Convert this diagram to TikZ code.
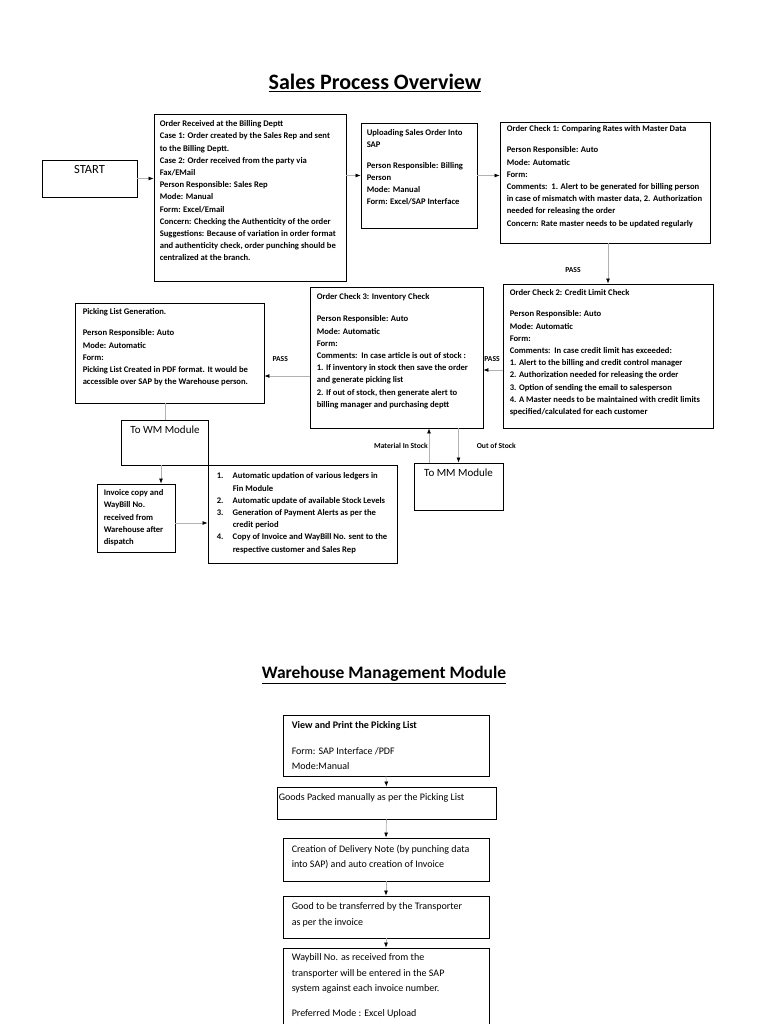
\documentclass[tikz,border=0pt]{standalone}
\usepackage{fontspec}
\setmainfont{Carlito}
\usetikzlibrary{arrows.meta, positioning}

\begin{document}
\begin{tikzpicture}[
    x=1pt, y=-1pt,
    panel/.style={draw, line width=0.9pt, inner sep=0pt},
    note/.style={align=left, inner sep=0pt, font=\fontsize{8.6}{12.2}\selectfont\bfseries},
    plain/.style={align=left, inner sep=0pt, font=\fontsize{10}{15.5}\selectfont},
    caption/.style={inner sep=0pt, font=\fontsize{11}{12}\selectfont},
    heading/.style={inner sep=0pt, font=\fontsize{19}{22}\selectfont\bfseries},
    tag/.style={inner sep=0pt, font=\fontsize{7.6}{8}\selectfont\bfseries},
    arrow/.style={-{Latex[length=5pt, width=4pt, black]}, draw=gray!60, line width=0.7pt},
    link/.style={draw=gray!60, line width=0.7pt}
]
\fill[white] (0,0) rectangle (768,1024);
\useasboundingbox (0,0) rectangle (768,1024);
\clip (0,0) rectangle (768,1024);

% sales process
\node[heading, font=\fontsize{22}{24}\selectfont\bfseries] (salesTitle) at (375,83) {\underline{Sales Process Overview}};

\node[panel, minimum width=95pt, minimum height=37pt] (start) at (89.5,178.5) {};
\node[caption, font=\fontsize{12.5}{14}\selectfont, below=6pt of start.north] {START};

\node[panel, minimum width=192pt, minimum height=167pt] (recv) at (250,197.5) {};
\node[note, below right=7pt and 6pt of recv.north west] {Order Received at the Billing Deptt\\
Case 1: Order created by the Sales Rep and sent\\
to the Billing Deptt.\\
Case 2: Order received from the party via\\
Fax/EMail\\
Person Responsible: Sales Rep\\
Mode: Manual\\
Form: Excel/Email\\
Concern: Checking the Authenticity of the order\\
Suggestions: Because of variation in order format\\
and authenticity check, order punching should be\\
centralized at the branch.};

\node[panel, minimum width=116pt, minimum height=105pt] (upload) at (419,175.5) {};
\node[note, below right=7pt and 6pt of upload.north west] {Uploading Sales Order Into\\
SAP\\[8pt]
Person Responsible: Billing\\
Person\\
Mode: Manual\\
Form: Excel/SAP Interface};

\node[panel, minimum width=210pt, minimum height=121pt] (chk1) at (605,182.5) {};
\node[note, below right=4pt and 7pt of chk1.north west] {Order Check 1: Comparing Rates with Master Data\\[9pt]
Person Responsible: Auto\\
Mode: Automatic\\
Form:\\
Comments:\ \ 1. Alert to be generated for billing person\\
in case of mismatch with master data, 2. Authorization\\
needed for releasing the order\\
Concern: Rate master needs to be updated regularly};

\node[panel, minimum width=210pt, minimum height=144pt] (chk2) at (608,356) {};
\node[note, below right=6pt and 7pt of chk2.north west] {Order Check 2: Credit Limit Check\\[9pt]
Person Responsible: Auto\\
Mode: Automatic\\
Form:\\
Comments:\ \ In case credit limit has exceeded:\\
1. Alert to the billing and credit control manager\\
2. Authorization needed for releasing the order\\
3. Option of sending the email to salesperson\\
4. A Master needs to be maintained with credit limits\\
specified/calculated for each customer};

\node[panel, minimum width=173pt, minimum height=141pt] (chk3) at (396.5,357.5) {};
\node[note, below right=7pt and 7pt of chk3.north west] {Order Check 3: Inventory Check\\[10pt]
Person Responsible: Auto\\
Mode: Automatic\\
Form:\\
Comments:\ \ In case article is out of stock :\\
1. If inventory in stock then save the order\\
and generate picking list\\
2. If out of stock, then generate alert to\\
billing manager and purchasing deptt};

\node[panel, minimum width=189pt, minimum height=100pt] (pick) at (169.5,353) {};
\node[note, below right=6pt and 8pt of pick.north west] {Picking List Generation.\\[9pt]
Person Responsible: Auto\\
Mode: Automatic\\
Form:\\
Picking List Created in PDF format. It would be\\
accessible over SAP by the Warehouse person.};

\node[panel, minimum width=87pt, minimum height=45pt] (towm) at (165,442.5) {};
\node[caption, below=6pt of towm.north] {To WM Module};

\node[panel, minimum width=78pt, minimum height=68pt] (invoice) at (136,518) {};
\node[note, below right=6pt and 7pt of invoice.north west] {Invoice copy and\\
WayBill No.\\
received from\\
Warehouse after\\
dispatch};

\node[panel, minimum width=189pt, minimum height=98pt] (fin) at (302.5,514) {};
\node[note, below right=8pt and 9pt of fin.north west] {\makebox[16pt][l]{1.}Automatic updation of various ledgers in\\
\hspace*{16pt}Fin Module\\
\makebox[16pt][l]{2.}Automatic update of available Stock Levels\\
\makebox[16pt][l]{3.}Generation of Payment Alerts as per the\\
\hspace*{16pt}credit period\\
\makebox[16pt][l]{4.}Copy of Invoice and WayBill No. sent to the\\
\hspace*{16pt}respective customer and Sales Rep};

\node[panel, minimum width=89pt, minimum height=47pt] (tomm) at (458.5,486.5) {};
\node[caption, below=6pt of tomm.north] {To MM Module};

\draw[arrow] (start.east) -- (start.east -| recv.west);
\draw[arrow] (upload.west -| recv.east) -- (upload.west);
\draw[arrow] (upload.east) -- (upload.east -| chk1.west);
\draw[arrow] (chk1.south -| chk2.north) -- (chk2.north) node[tag, pos=0.66, left=27pt] {PASS};
\draw[arrow] ([yshift=-14pt]chk2.west) -- ([yshift=-14pt]chk2.west -| chk3.east) node[tag, pos=0.55, above=8pt] {PASS};
\draw[arrow] ([yshift=-18.5pt]chk3.west) -- ([yshift=-18.5pt]chk3.west -| pick.east) node[tag, pos=0.65, above=14pt] {PASS};
\draw[link] (towm.north) -- (towm.north |- pick.south);
\draw[arrow] ([xshift=-4pt]towm.south) -- ([xshift=-4pt]towm.south |- invoice.north);
\draw[arrow] ([yshift=-5pt]invoice.east) -- ([yshift=-5pt]invoice.east -| fin.west);
\draw[arrow] (chk3.south -| tomm.north) -- (tomm.north) node[tag, midway, right=18pt] {Out of Stock};
\draw[arrow] ([xshift=-29.5pt]tomm.north) -- ([xshift=-29.5pt]tomm.north |- chk3.south) node[tag, midway, left=1pt] {Material In Stock};

% warehouse module
\node[heading, font=\fontsize{17.5}{20}\selectfont\bfseries] (whTitle) at (384,675) {\underline{Warehouse Management Module}};

\node[panel, minimum width=206pt, minimum height=61pt] (view) at (386,745.5) {};
\node[plain, below right=7pt and 9pt of view.north west] {\textbf{View and Print the Picking List}\\[10pt]
Form: SAP Interface /PDF\\
Mode:Manual};

\node[panel, minimum width=219pt, minimum height=32pt] (packed) at (386.5,803) {};
\node[plain, below right=7pt and 2pt of packed.north west] {Goods Packed manually as per the Picking List};

\node[panel, minimum width=206pt, minimum height=43pt] (delivery) at (386,859.5) {};
\node[plain, below right=7pt and 9pt of delivery.north west] {Creation of Delivery Note (by punching data\\
into SAP) and auto creation of Invoice};

\node[panel, minimum width=206pt, minimum height=42pt] (transfer) at (386,917) {};
\node[plain, below right=7pt and 9pt of transfer.north west] {Good to be transferred by the Transporter\\
as per the invoice};

\node[panel, minimum width=206pt, minimum height=84pt] (waybill) at (386,990) {};
\node[plain, below right=6pt and 9pt of waybill.north west] {Waybill No. as received from the\\
transporter will be entered in the SAP\\
system against each invoice number.\\[9pt]
Preferred Mode : Excel Upload};

\draw[arrow] (view.south) -- (packed.north);
\draw[arrow] (packed.south) -- (delivery.north);
\draw[arrow] (delivery.south) -- (transfer.north);
\draw[arrow] (transfer.south) -- (waybill.north);
\end{tikzpicture}
\end{document}
